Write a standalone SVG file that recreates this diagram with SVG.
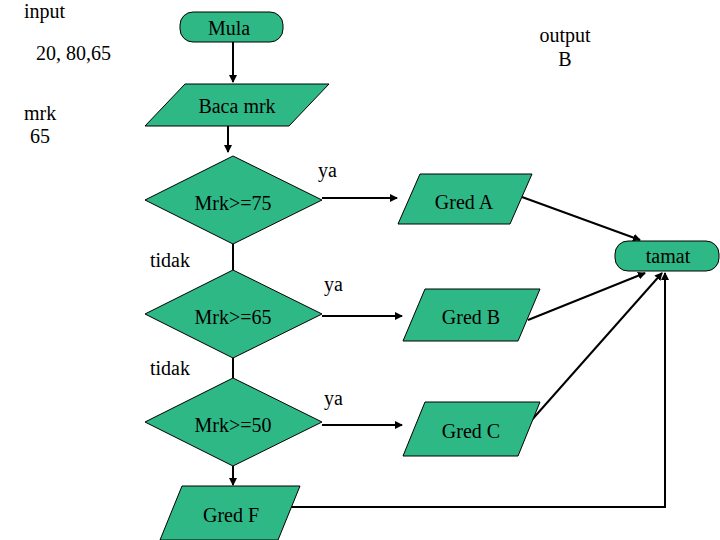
<svg xmlns="http://www.w3.org/2000/svg" width="720" height="540" viewBox="0 0 720 540">
<style>
.n{fill:#2EB886;stroke:#000;stroke-width:1}
.t{font-family:"Liberation Serif",serif;font-size:20px;fill:#000}
.c{text-anchor:middle}
.l{stroke:#000;stroke-width:2;fill:none}
</style>
<defs><marker id="a" markerWidth="8" markerHeight="8" refX="7" refY="4" orient="auto" markerUnits="userSpaceOnUse"><path d="M0,0L8,4L0,8z" fill="#000"/></marker></defs>
<rect width="720" height="540" fill="#fff"/>
<g id="notes" class="t">
<text x="24" y="18">input</text>
<text x="36" y="60">20, 80,65</text>
<text x="24" y="120">mrk</text>
<text x="30" y="143">65</text>
<text x="565" y="42" class="c">output</text>
<text x="565" y="66" class="c">B</text>
<text x="318" y="177">ya</text>
<text x="150" y="267">tidak</text>
<text x="324" y="291">ya</text>
<text x="150" y="375">tidak</text>
<text x="324" y="405">ya</text>
</g>
<g id="connectors">
<path class="l" d="M233,42V82" marker-end="url(#a)"/>
<path class="l" d="M228,126V152" marker-end="url(#a)"/>
<path class="l" d="M322,198H397" marker-end="url(#a)"/>
<path class="l" d="M522,197L640,240" marker-end="url(#a)"/>
<path class="l" d="M233,244V270"/>
<path class="l" d="M322,316H402" marker-end="url(#a)"/>
<path class="l" d="M528,320L645,273" marker-end="url(#a)"/>
<path class="l" d="M233,358V378"/>
<path class="l" d="M322,425H402" marker-end="url(#a)"/>
<path class="l" d="M522,431L662,273" marker-end="url(#a)"/>
<path class="l" d="M233,466V485" marker-end="url(#a)"/>
<path class="l" d="M290,507H665V273" marker-end="url(#a)"/>
</g>
<g id="mula"><rect class="n" x="180" y="12" width="103" height="30" rx="13"/><text class="t c" x="229" y="35">Mula</text></g>
<g id="baca"><polygon class="n" points="145,126 185,84 329,84 289,126"/><text class="t c" x="237" y="113">Baca mrk</text></g>
<g id="d1"><polygon class="n" points="233,156 322,200 233,244 145,200"/><text class="t c" x="233" y="210">Mrk&gt;=75</text></g>
<g id="d2"><polygon class="n" points="233,270 322,314 233,358 145,314"/><text class="t c" x="233" y="324">Mrk&gt;=65</text></g>
<g id="d3"><polygon class="n" points="233,378 322,422 233,466 145,422"/><text class="t c" x="233" y="432">Mrk&gt;=50</text></g>
<g id="gredA"><polygon class="n" points="398,224 420,174 532,174 510,224"/><text class="t c" x="464" y="209">Gred A</text></g>
<g id="gredB"><polygon class="n" points="403,341 425,289 540,289 518,341"/><text class="t c" x="471" y="324">Gred B</text></g>
<g id="gredC"><polygon class="n" points="403,456 425,402 540,402 518,456"/><text class="t c" x="471" y="438">Gred C</text></g>
<g id="gredF"><polygon class="n" points="160,540 182,486 300,486 278,540"/><text class="t c" x="231" y="522">Gred F</text></g>
<g id="tamat"><rect class="n" x="615" y="241" width="104" height="30" rx="13"/><text class="t c" x="668" y="263">tamat</text></g>
</svg>
